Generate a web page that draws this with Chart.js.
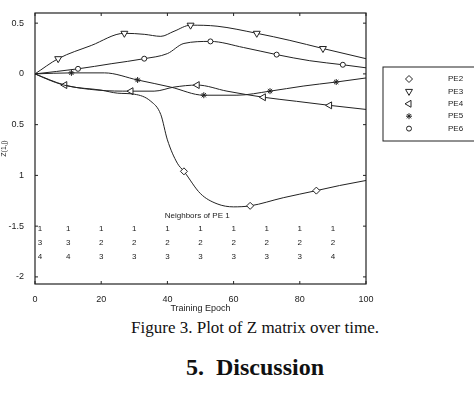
<!DOCTYPE html>
<html>
<head>
<meta charset="utf-8">
<script src="https://cdn.jsdelivr.net/npm/chart.js@4"></script>
<style>
  body { margin: 0; background: #fff; width: 474px; height: 405px; overflow: hidden; position: relative; }
  #wrap { position: absolute; left: 0; top: 0; width: 474px; height: 314px; }
  .cap { position: absolute; left: 0; width: 510px; text-align: center; font-family: 'Liberation Serif', serif; color: #111; }
</style>
</head>
<body>
<div id="wrap"><canvas id="c" width="474" height="314"></canvas></div>
<div class="cap" style="top:318px;font-size:17px;">Figure 3. Plot of Z matrix over time.</div>
<div class="cap" style="top:354px;font-size:24px;font-weight:bold;">5.&nbsp; Discussion</div>
<script>
// series as [epoch, value]
const pe2 = [[0,0],[5,-0.07],[10,-0.12],[20,-0.16],[25,-0.19],[30,-0.2],[35,-0.27],[38,-0.4],[40,-0.65],[43,-0.88],[45,-0.96],[50,-1.18],[55,-1.28],[60,-1.31],[65,-1.3],[75,-1.22],[85,-1.15],[92,-1.1],[100,-1.05]];
const pe3 = [[0,0],[7,0.15],[17,0.28],[27,0.4],[33,0.39],[38,0.37],[42,0.42],[47,0.48],[55,0.47],[67,0.4],[77,0.33],[87,0.25],[100,0.15]];
const pe4 = [[0,0],[9,-0.11],[19,-0.16],[29,-0.17],[36,-0.17],[42,-0.13],[49,-0.11],[58,-0.17],[69,-0.23],[79,-0.27],[89,-0.31],[100,-0.35]];
const pe5 = [[0,0],[11,0.01],[21,0.01],[31,-0.06],[41,-0.13],[51,-0.21],[61,-0.21],[71,-0.17],[81,-0.12],[91,-0.08],[100,-0.04]];
const pe6 = [[0,0],[13,0.05],[23,0.1],[33,0.15],[40,0.2],[45,0.3],[53,0.32],[63,0.26],[73,0.19],[83,0.13],[93,0.09],[100,0.06]];
const markers2 = [45, 65, 85];
const markers3 = [7, 27, 47, 67, 87];
const markers4 = [9, 29, 49, 69, 89];
const markers5 = [11, 31, 51, 71, 91];
const markers6 = [13, 33, 53, 73, 93];
const seriesNames = ['PE2', 'PE3', 'PE4', 'PE5', 'PE6'];

const xTicks = [0, 20, 40, 60, 80, 100];
const yTicks = [0.5, 0, -0.5, -1, -1.5, -2];
const yTickLabels = ['0.5', '0', '0.5', '1', '-1.5', '-2'];

// neighbour table
const neighborEpochs = [1.5, 10, 20, 30, 40, 50, 60, 70, 80, 90];
const neighborRow1 = [1, 1, 1, 1, 1, 1, 1, 1, 1, 1];
const neighborRow2 = [3, 3, 2, 2, 2, 2, 2, 2, 2, 2];
const neighborRow3 = [4, 4, 3, 3, 3, 3, 3, 3, 3, 4];
const neighborRowY = [-1.53, -1.66, -1.8];

const styles = [
  { pointStyle: 'rectRot', rotation: 0, r: 3.5 },
  { pointStyle: 'triangle', rotation: 180, r: 4 },
  { pointStyle: 'triangle', rotation: 270, r: 4 },
  { pointStyle: 'star', rotation: 0, r: 3 },
  { pointStyle: 'circle', rotation: 0, r: 2.5 }
];
const FONT = '"Liberation Sans", Arial';

function makeSet(data, marks, i) {
  return {
    label: seriesNames[i],
    data: data.map(p => ({ x: p[0], y: p[1] })),
    borderColor: '#222', backgroundColor: '#fff', borderWidth: 1,
    pointStyle: styles[i].pointStyle, rotation: styles[i].rotation,
    pointRadius: data.map(p => marks.includes(p[0]) ? styles[i].r : 0),
    pointBorderColor: '#222', pointBorderWidth: 1,
    cubicInterpolationMode: 'monotone', fill: false
  };
}

const framePlugin = {
  id: 'frame',
  afterDraw(chart) {
    const { ctx, chartArea: a, scales } = chart;
    ctx.save();
    ctx.strokeStyle = '#222'; ctx.lineWidth = 1.2;
    ctx.strokeRect(a.left, a.top, a.right - a.left, a.bottom - a.top);
    ctx.lineWidth = 1;
    xTicks.forEach(t => { const x = scales.x.getPixelForValue(t);
      ctx.beginPath(); ctx.moveTo(x, a.bottom); ctx.lineTo(x, a.bottom - 3); ctx.moveTo(x, a.top); ctx.lineTo(x, a.top + 3); ctx.stroke(); });
    yTicks.forEach(t => { const y = scales.y.getPixelForValue(t);
      ctx.beginPath(); ctx.moveTo(a.left, y); ctx.lineTo(a.left + 3, y); ctx.moveTo(a.right, y); ctx.lineTo(a.right - 3, y); ctx.stroke(); });
    // neighbour table
    ctx.fillStyle = '#222'; ctx.font = '8px ' + FONT;
    ctx.textAlign = 'center'; ctx.textBaseline = 'middle';
    ctx.fillText('Neighbors of PE 1', scales.x.getPixelForValue(49), scales.y.getPixelForValue(-1.4));
    [neighborRow1, neighborRow2, neighborRow3].forEach((row, r) => {
      row.forEach((v, i) => ctx.fillText(String(v), scales.x.getPixelForValue(neighborEpochs[i]), scales.y.getPixelForValue(neighborRowY[r])));
    });
    // legend
    ctx.strokeStyle = '#222'; ctx.lineWidth = 1;
    ctx.strokeRect(383, 67, 100, 74);
    ctx.textAlign = 'left';
    seriesNames.forEach((n, i) => {
      const y = 79 + i * 12.4;
      ctx.fillStyle = '#fff';
      Chart.helpers.drawPoint(ctx, { pointStyle: styles[i].pointStyle, rotation: styles[i].rotation, radius: styles[i].r, borderWidth: 1 }, 409, y);
      ctx.fillStyle = '#222';
      ctx.fillText(n, 448, y);
    });
    ctx.restore();
  }
};

new Chart(document.getElementById('c'), {
  type: 'line',
  data: { datasets: [makeSet(pe2, markers2, 0), makeSet(pe3, markers3, 1), makeSet(pe4, markers4, 2), makeSet(pe5, markers5, 3), makeSet(pe6, markers6, 4)] },
  options: {
    responsive: false, animation: false,
    layout: { padding: { top: 13, right: 108, left: 0, bottom: 0 } },
    plugins: { legend: { display: false }, tooltip: { enabled: false } },
    scales: {
      x: {
        type: 'linear', min: 0, max: 100,
        afterBuildTicks: s => { s.ticks = xTicks.map(v => ({ value: v })); },
        afterFit: s => { s.height = 30; },
        grid: { display: false }, border: { display: false },
        ticks: { color: '#222', font: { size: 9, family: FONT }, padding: 2 },
        title: { display: true, text: 'Training Epoch', color: '#222', font: { size: 9, family: FONT }, padding: 0 }
      },
      y: {
        min: -2.07, max: 0.6,
        afterBuildTicks: s => { s.ticks = yTicks.map(v => ({ value: v })); },
        afterFit: s => { s.width = 35; },
        grid: { display: false }, border: { display: false },
        ticks: { color: '#222', font: { size: 9, family: FONT }, padding: 3,
          callback: v => yTickLabels[yTicks.indexOf(v)] },
        title: { display: true, text: 'Z(1,j)', color: '#222', font: { size: 7, family: FONT }, padding: 0 }
      }
    }
  },
  plugins: [framePlugin]
});
</script>
</body>
</html>
